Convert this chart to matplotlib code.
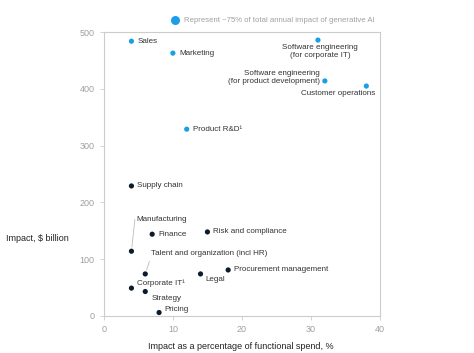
import matplotlib
matplotlib.use("Agg")
import matplotlib.pyplot as plt

plt.rcParams["font.family"] = ["Liberation Sans", "DejaVu Sans"]

# dados
funcoes = ["Sales", "Marketing", "Software engineering\n(for corporate IT)",
           "Software engineering\n(for product development)", "Customer operations",
           "Product R&D¹", "Supply chain", "Manufacturing", "Finance",
           "Risk and compliance", "Talent and organization (incl HR)", "Legal",
           "Procurement management", "Corporate IT¹", "Strategy", "Pricing"]
pct_gasto = [4, 10, 31, 32, 38, 12, 4, 4, 7, 15, 6, 14, 18, 4, 6, 8]
impacto = [484, 463, 486, 414, 405, 329, 229, 114, 144, 148, 74, 74, 81, 49, 43, 6]
top75 = [True, True, True, True, True, True] + [False] * 10

# deslocamento dos rótulos em pixels (dx, dy, ha, va)
rotulos = [
    (6, 0, "left", "center"),
    (6, 0, "left", "center"),
    (2, -4, "center", "top"),
    (-5, -4, "right", "bottom"),
    (9, -4, "right", "top"),
    (6, 0, "left", "center"),
    (6, 0, "left", "center"),
    (5, 32, "left", "center"),
    (6, 0, "left", "center"),
    (6, 0, "left", "center"),
    (6, 20, "left", "center"),
    (5, -6, "left", "center"),
    (6, 0, "left", "center"),
    (6, 5, "left", "center"),
    (6, -7, "left", "center"),
    (5, 3, "left", "center"),
]

azul = "#1a9fe6"
escuro = "#0d1b2a"
cinza = "#a0a0a0"

fig = plt.figure(figsize=(4.74, 3.53), dpi=100)
ax = fig.add_axes([0.219, 0.105, 0.583, 0.804])

cores = [azul if t else escuro for t in top75]
ax.scatter(pct_gasto, impacto, s=14, c=cores, zorder=3, linewidths=0)

for nome, x, y, (dx, dy, ha, va) in zip(funcoes, pct_gasto, impacto, rotulos):
    ax.annotate(nome, (x, y), xytext=(dx, dy), textcoords="offset pixels",
                ha=ha, va=va, fontsize=5.8, color="#333333", linespacing=1.15)

# linhas guia (Manufacturing e Talent)
ax.annotate("", (4, 114), xytext=(4.5, 170),
            arrowprops=dict(arrowstyle="-", color="#bbbbbb", lw=0.6, shrinkA=0, shrinkB=3))
ax.annotate("", (6, 74), xytext=(6.6, 96),
            arrowprops=dict(arrowstyle="-", color="#bbbbbb", lw=0.6, shrinkA=0, shrinkB=3))

ax.set_xlim(0, 40)
ax.set_ylim(0, 500)
ax.set_xticks([0, 10, 20, 30, 40])
ax.set_yticks([0, 100, 200, 300, 400, 500])
for s in ax.spines.values():
    s.set_color("#cccccc")
    s.set_linewidth(0.8)
ax.tick_params(colors="#cccccc", labelcolor=cinza, labelsize=6.5, length=3, width=0.6)

# legenda
fig.text(0.388, 0.943, "Represent ~75% of total annual impact of generative AI",
         fontsize=5.6, color=cinza, va="center")
lg = fig.add_axes([0.36, 0.925, 0.02, 0.036])
lg.scatter([0], [0], s=42, c=azul, linewidths=0)
lg.set_axis_off()

fig.text(0.012, 0.323, "Impact, \\$ billion", fontsize=6.5, color="#222222", va="center")
fig.text(0.507, 0.017, "Impact as a percentage of functional spend, %", fontsize=6.5,
         color="#222222", ha="center", va="center")

fig.savefig("out.png", dpi=100)
